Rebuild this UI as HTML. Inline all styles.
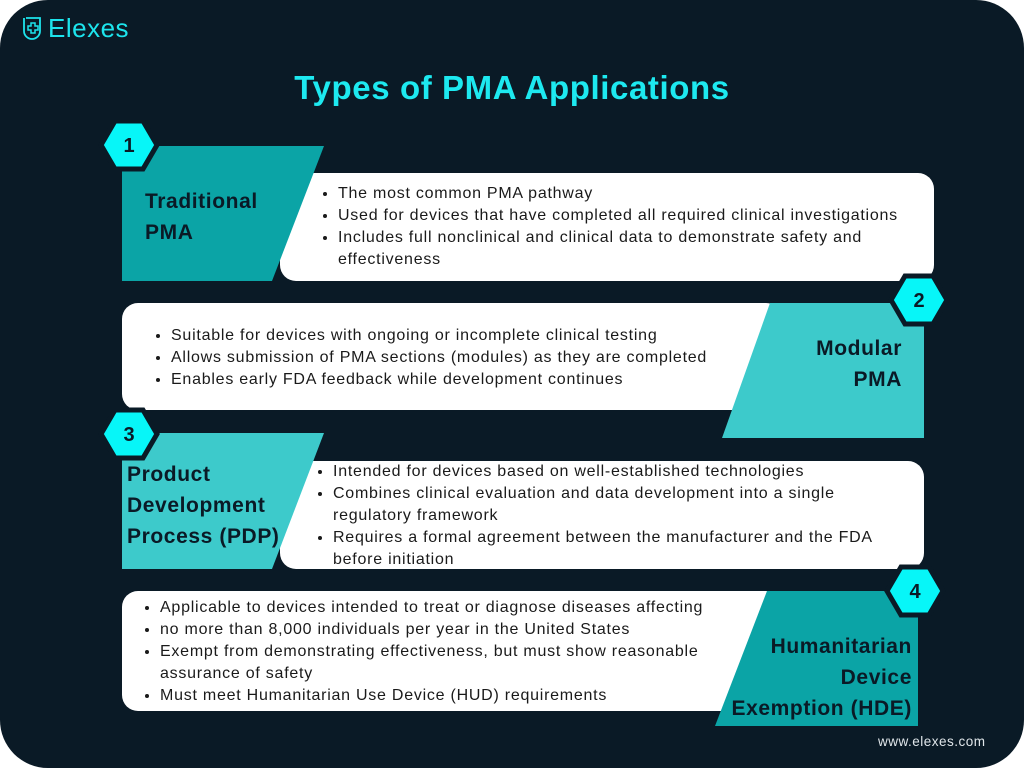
<!DOCTYPE html>
<html><head><style>
body{margin:0;background:#fff;}
#c{position:relative;width:1024px;height:768px;background:#0a1a26;border-radius:48px;overflow:hidden;font-family:"Liberation Sans",sans-serif;}
.abs{position:absolute;}
.w{position:absolute;background:#fff;border-radius:16px;}
ul{margin:0;padding:0 0 0 18px;font-size:16px;letter-spacing:0.75px;color:#1a1a1a;line-height:22px;}
.lab{position:absolute;font-weight:bold;font-size:21px;letter-spacing:0.6px;color:#0a1a26;line-height:31px;}
</style></head><body><div id="c">
<div class="abs" style="left:22px;top:13px;color:#1de4ec;font-size:26px;letter-spacing:0.5px;">
<svg width="26" height="28" viewBox="0 0 24 28" style="vertical-align:-5px"><path d="M3 4h14v13a8 8 0 0 1-16 0V4" fill="none" stroke="#1de4ec" stroke-width="1.8"/><path d="M8 9h4v3h3v4h-3v3h-4v-3H5v-4h3z" fill="none" stroke="#1de4ec" stroke-width="1.5"/></svg>Elexes</div>
<div class="abs" style="left:0;width:1024px;top:69px;text-align:center;color:#1de9f0;font-weight:bold;font-size:33px;letter-spacing:0.6px;">Types of PMA Applications</div>

<div class="w" style="left:280px;top:173px;width:654px;height:108px;"></div>
<div class="w" style="left:122px;top:303px;width:660px;height:107px;"></div>
<div class="w" style="left:280px;top:461px;width:644px;height:108px;"></div>
<div class="w" style="left:122px;top:591px;width:660px;height:120px;"></div>

<svg class="abs" style="left:0;top:0" width="1024" height="768">
<polygon points="122,146 324,146 272,281 122,281" fill="#0ba4a6"/>
<polygon points="770,303 924,303 924,438 722,438" fill="#3dcacb"/>
<polygon points="122,433 324,433 272,569 122,569" fill="#3dcacb"/>
<polygon points="767,591 918,591 918,726 715,726" fill="#0ba4a6"/>
<g stroke="#0a1a26" stroke-width="5" fill="#07f6f8">
<polygon points="101,145 115,121 143,121 157,145 143,169 115,169"/>
<polygon points="891,300 905,276 933,276 947,300 933,324 905,324"/>
<polygon points="101,434 115,410 143,410 157,434 143,458 115,458"/>
<polygon points="887,591 901,567 929,567 943,591 929,615 901,615"/>
</g>
<g font-family="Liberation Sans" font-weight="bold" font-size="20" fill="#0a1a26" text-anchor="middle">
<text x="129" y="152">1</text><text x="919" y="307">2</text><text x="129" y="441">3</text><text x="915" y="598">4</text>
</g>
</svg>

<div class="lab" style="left:145px;top:186px;">Traditional<br>PMA</div>
<div class="lab" style="left:740px;top:333px;width:162px;text-align:right;">Modular<br>PMA</div>
<div class="lab" style="left:127px;top:459px;">Product<br>Development<br>Process (PDP)</div>
<div class="lab" style="left:690px;top:631px;width:222px;text-align:right;">Humanitarian<br>Device<br>Exemption (HDE)</div>

<ul class="abs" style="left:320px;top:183px;width:600px;">
<li>The most common PMA pathway</li><li>Used for devices that have completed all required clinical investigations</li><li>Includes full nonclinical and clinical data to demonstrate safety and effectiveness</li></ul>
<ul class="abs" style="left:153px;top:325px;width:600px;">
<li>Suitable for devices with ongoing or incomplete clinical testing</li><li>Allows submission of PMA sections (modules) as they are completed</li><li>Enables early FDA feedback while development continues</li></ul>
<ul class="abs" style="left:315px;top:461px;width:575px;">
<li>Intended for devices based on well-established technologies</li><li>Combines clinical evaluation and data development into a single regulatory framework</li><li>Requires a formal agreement between the manufacturer and the FDA before initiation</li></ul>
<ul class="abs" style="left:142px;top:597px;width:590px;">
<li style="white-space:nowrap">Applicable to devices intended to treat or diagnose diseases affecting</li><li>no more than 8,000 individuals per year in the United States</li><li>Exempt from demonstrating effectiveness, but must show reasonable assurance of safety</li><li>Must meet Humanitarian Use Device (HUD) requirements</li></ul>

<div class="abs" style="left:878px;top:734px;color:#e0e6ea;font-size:13.5px;letter-spacing:0.5px;">www.elexes.com</div>
</div></body></html>
